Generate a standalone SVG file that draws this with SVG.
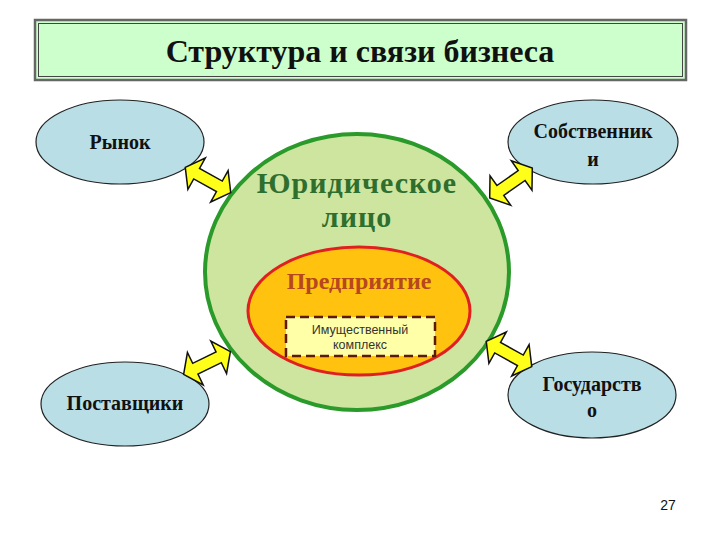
<svg xmlns="http://www.w3.org/2000/svg" width="720" height="540" viewBox="0 0 720 540">
<style>
.oval{fill:#B9DEE6;stroke:#222;stroke-width:1.2}
.lbl{font-family:"Liberation Serif",serif;font-weight:bold;font-size:20px;fill:#111;text-anchor:middle}
.arr{fill:#FFFF1A;stroke:#111;stroke-width:1.5;stroke-linejoin:miter}
.big{font-family:"Liberation Serif",serif;font-weight:bold;font-size:30px;letter-spacing:1px;fill:#2E6E2E;text-anchor:middle}
.small{font-family:"Liberation Sans",Arial,sans-serif;font-size:12.5px;fill:#333;text-anchor:middle}
</style>
<defs>
<polygon id="dbl" points="-26,0 -13,-18 -13,-6 13,-6 13,-18 26,0 13,18 13,6 -13,6 -13,18"/>
</defs>
<rect width="720" height="540" fill="#FFFFFF"/>
<g id="title">
<rect x="35" y="20" width="651" height="60" fill="#CCFFCC" stroke="#666" stroke-width="2.5"/>
<rect x="38.5" y="23.5" width="644" height="53" fill="none" stroke="#444" stroke-width="1"/>
<text x="360" y="62" font-family="Liberation Serif,serif" font-weight="bold" font-size="32" fill="#111" text-anchor="middle">Структура и связи бизнеса</text>
</g>
<g id="legal-entity">
<ellipse cx="357" cy="272" rx="152" ry="138" fill="#CDE59E" stroke="#2A9A2A" stroke-width="4"/>
<text class="big" x="357" y="193">Юридическое</text>
<text class="big" x="357" y="227">лицо</text>
</g>
<g id="enterprise">
<ellipse cx="359" cy="311" rx="111" ry="64" fill="#FFC20E" stroke="#E02020" stroke-width="3"/>
<text x="359" y="289" font-family="Liberation Serif,serif" font-weight="bold" font-size="24" fill="#B5481F" text-anchor="middle">Предприятие</text>
</g>
<g id="property">
<rect x="286" y="317" width="149" height="39" fill="#FFFFA8" stroke="#5C1A0A" stroke-width="2.5" stroke-dasharray="9 5"/>
<text class="small" x="360" y="334">Имущественный</text>
<text class="small" x="360" y="349">комплекс</text>
</g>
<g id="market">
<ellipse class="oval" cx="120" cy="142" rx="84" ry="42"/>
<text class="lbl" x="120" y="149">Рынок</text>
</g>
<g id="owners">
<ellipse class="oval" cx="593" cy="142" rx="85" ry="42"/>
<text class="lbl" x="593" y="138">Собственник</text>
<text class="lbl" x="593" y="166">и</text>
</g>
<g id="suppliers">
<ellipse class="oval" cx="125" cy="404" rx="84" ry="42"/>
<text class="lbl" x="125" y="410">Поставщики</text>
</g>
<g id="state">
<ellipse class="oval" cx="592" cy="395" rx="84" ry="43"/>
<text class="lbl" x="592" y="391">Государств</text>
<text class="lbl" x="592" y="417">о</text>
</g>
<g id="connectors">
<use href="#dbl" class="arr" transform="translate(208,180) rotate(29)"/>
<use href="#dbl" class="arr" transform="translate(511,183) rotate(-35)"/>
<use href="#dbl" class="arr" transform="translate(207,363) rotate(-26)"/>
<use href="#dbl" class="arr" transform="translate(509,354) rotate(29)"/>
</g>
<text x="668" y="510" font-family="Liberation Sans,Arial,sans-serif" font-size="14" fill="#111" text-anchor="middle">27</text>
</svg>
